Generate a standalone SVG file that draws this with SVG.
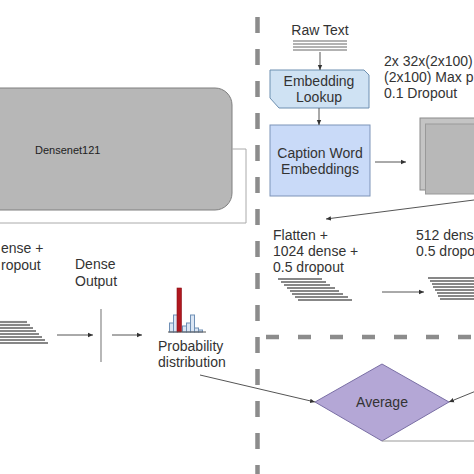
<svg xmlns="http://www.w3.org/2000/svg" width="474" height="474" viewBox="0 0 474 474">
<defs>
<style>
text{font-family:"Liberation Sans",Arial,sans-serif;fill:#333;font-size:14px}
.c{text-anchor:middle}
.ln{stroke:#555;stroke-width:1;fill:none}
.st{stroke:#878787;stroke-width:2.1}
.hb{fill:#dbe6f4;stroke:#6f8fb5;stroke-width:1}
.dash{stroke:#8c8c8c;stroke-width:4.5;fill:none}
</style>
<marker id="ah" markerWidth="6" markerHeight="6" refX="5" refY="3" orient="auto" markerUnits="userSpaceOnUse"><path d="M0,0.8 L5,3 L0,5.2 z" fill="#333"/></marker>
</defs>
<rect width="474" height="474" fill="#fff"/>

<g id="dividers">
<line class="dash" x1="257.5" y1="17" x2="257.5" y2="474" stroke-dasharray="16 16"/>
<line class="dash" x1="266" y1="337" x2="474" y2="337" stroke-dasharray="13 19"/>
</g>

<g id="densenet">
<path d="M-5,88 H215 A17,17 0 0 1 232,105 V193 A17,17 0 0 1 215,210 H-5 Z" fill="#b7b7b7" stroke="#7f7f7f" stroke-width="1"/>
<text x="35" y="154" style="font-size:11px;fill:#222">Densenet121</text>
</g>

<g id="raw-text">
<text class="c" x="320" y="35">Raw Text</text>
<g stroke="#999" stroke-width="1.3">
<line x1="293" y1="41" x2="347" y2="41"/><line x1="293" y1="44" x2="347" y2="44"/><line x1="293" y1="47" x2="347" y2="47"/><line x1="293" y1="50" x2="347" y2="50"/>
</g>
</g>

<g id="embedding-lookup">
<path d="M270,70 H364 L369,75 V108 H279 L270,98 Z" fill="#cfe2f3" stroke="#6d8fb0" stroke-width="1"/>
<text class="c" x="319" y="86">Embedding</text>
<text class="c" x="319" y="102">Lookup</text>
</g>

<g id="caption-word-embeddings">
<rect x="270" y="125" width="100" height="71" fill="#c9daf8" stroke="#7d93b8" stroke-width="1"/>
<text class="c" x="320" y="158">Caption Word</text>
<text class="c" x="320" y="174">Embeddings</text>
</g>

<g id="conv-label">
<text x="384" y="66">2x 32x(2x100)</text>
<text x="384" y="82">(2x100) Max p</text>
<text x="384" y="98">0.1 Dropout</text>
</g>

<g id="conv-cards">
<rect x="420" y="118" width="60" height="72" fill="#c4c4c4" stroke="#8a8a8a" stroke-width="1"/>
<rect x="425.5" y="124" width="60" height="70" fill="#b8b8b8" stroke="#999" stroke-width="1"/>
</g>

<g id="flatten">
<text x="273" y="240">Flatten +</text>
<text x="273" y="256">1024 dense +</text>
<text x="273" y="272">0.5 dropout</text>
<g class="st">
<line x1="278" y1="279" x2="322" y2="279"/><line x1="281" y1="282" x2="326" y2="282"/><line x1="284" y1="285" x2="330" y2="285"/><line x1="287" y1="288" x2="335" y2="288"/><line x1="290" y1="291" x2="339" y2="291"/><line x1="292" y1="294" x2="343" y2="294"/><line x1="295" y1="297" x2="348" y2="297"/><line x1="298" y1="300" x2="352" y2="300"/>
</g>
</g>

<g id="dense512">
<text x="416" y="240">512 dens</text>
<text x="416" y="256">0.5 dropo</text>
<g class="st">
<line x1="428" y1="278" x2="480" y2="278"/><line x1="430" y1="281" x2="480" y2="281"/><line x1="432" y1="284" x2="480" y2="284"/><line x1="433" y1="287" x2="480" y2="287"/><line x1="435" y1="290" x2="480" y2="290"/><line x1="437" y1="293" x2="480" y2="293"/><line x1="438" y1="296" x2="480" y2="296"/><line x1="440" y1="299" x2="480" y2="299"/>
</g>
</g>

<g id="left-dense">
<text x="1" y="253">ense +</text>
<text x="1" y="270">ropout</text>
<g class="st">
<line x1="0" y1="322" x2="27" y2="322"/><line x1="0" y1="325" x2="30" y2="325"/><line x1="0" y1="328" x2="33" y2="328"/><line x1="0" y1="331" x2="36" y2="331"/><line x1="0" y1="334" x2="39" y2="334"/><line x1="0" y1="337" x2="42" y2="337"/><line x1="0" y1="340" x2="45" y2="340"/><line x1="0" y1="343" x2="48" y2="343"/>
</g>
</g>

<g id="dense-output">
<text x="75" y="269">Dense</text>
<text x="75" y="286">Output</text>
<line x1="101" y1="309" x2="101" y2="362" stroke="#888" stroke-width="1.2"/>
</g>

<g id="probability">
<rect class="hb" x="169.5" y="323" width="4" height="9"/>
<rect class="hb" x="173.5" y="315" width="4" height="17"/>
<rect x="177" y="288" width="4.5" height="44" fill="#b0171f" stroke="#8a1016" stroke-width="0.6"/>
<rect class="hb" x="182.5" y="326" width="4" height="6"/>
<rect class="hb" x="186.5" y="323" width="4" height="9"/>
<rect class="hb" x="190.5" y="315" width="4" height="17"/>
<rect class="hb" x="194.5" y="328" width="4" height="4"/>
<rect class="hb" x="198.5" y="330" width="4" height="2"/>
<line x1="168" y1="332" x2="206" y2="332" stroke="#555" stroke-width="1"/>
<text x="158" y="351">Probability</text>
<text x="158" y="367">distribution</text>
</g>

<g id="average">
<path d="M315,402 L382,364 L449,402 L382,441 Z" fill="#b4a7d6" stroke="#7a6fa5" stroke-width="1"/>
<text class="c" x="382" y="407">Average</text>
</g>

<g id="connectors">
<path d="M232,149 H246 V223 H-2" stroke="#aaa" stroke-width="1" fill="none"/>
<line class="ln" x1="320" y1="52" x2="320" y2="70" marker-end="url(#ah)"/>
<line class="ln" x1="319" y1="108" x2="319" y2="125" marker-end="url(#ah)"/>
<line class="ln" x1="375" y1="162" x2="406" y2="162" marker-end="url(#ah)"/>
<line class="ln" x1="474" y1="200" x2="326" y2="219" marker-end="url(#ah)"/>
<line class="ln" x1="382" y1="292" x2="424" y2="292" marker-end="url(#ah)"/>
<line class="ln" x1="57" y1="335" x2="93" y2="335" marker-end="url(#ah)"/>
<line class="ln" x1="112" y1="335" x2="142" y2="335" marker-end="url(#ah)"/>
<line class="ln" x1="200" y1="375" x2="315" y2="402" marker-end="url(#ah)"/>
<line class="ln" x1="476" y1="391" x2="449" y2="402" marker-end="url(#ah)"/>
<line x1="382" y1="441" x2="476" y2="441" stroke="#999" stroke-width="1.2"/>
</g>
</svg>
